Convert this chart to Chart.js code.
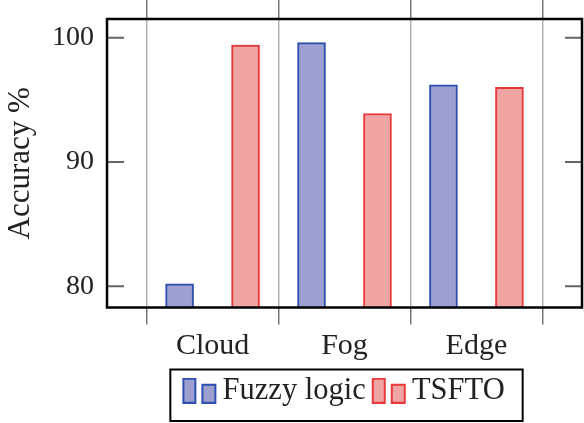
<!DOCTYPE html>
<html>
<head>
<meta charset="utf-8">
<script src="https://cdn.jsdelivr.net/npm/chart.js@4.4.1/dist/chart.umd.min.js"></script>
<style>
  html, body { margin: 0; padding: 0; background: #fff; }
  #wrap { width: 584px; height: 423px; }
</style>
</head>
<body>
<div id="wrap"><canvas id="accuracyChart"></canvas></div>
<script>
// Datos
const categories = ['Cloud', 'Fog', 'Edge'];
const fuzzyLogic = [80.2, 99.6, 96.2];
const tsfto = [99.4, 93.9, 96.0];
const yTicks = [80, 90, 100];
const seriesNames = ['Fuzzy logic', 'TSFTO'];

const FONT = 'Liberation Serif, Times New Roman, serif';
const blueFill = '#9c9fcf', blueLine = '#2f4fb0';
const redFill = '#f0a5a5', redLine = '#e8393a';

// separadores entre categorías (x = 0.5, 1.5, ...)
const xTickValues = [];
for (let i = 0; i <= categories.length; i++) {
    xTickValues.push(i + 0.5);
    if (i < categories.length) xTickValues.push(i + 1);
}
const isSeparator = v => Math.abs(v % 1 - 0.5) < 1e-6;

// icono de leyenda con dos barritas, como en pgfplots
function legendIcon(fill, line) {
    const c = document.createElement('canvas');
    c.width = 43; c.height = 26;
    const g = c.getContext('2d');
    g.fillStyle = fill; g.strokeStyle = line; g.lineWidth = 2;
    g.fillRect(9, 1, 12, 24); g.strokeRect(9, 1, 12, 24);
    g.fillRect(28, 7, 13, 18); g.strokeRect(28, 7, 13, 18);
    return c;
}

const frameAndTicks = {
    id: 'frameAndTicks',
    afterDatasetsDraw(chart) {
        const { ctx, chartArea: a } = chart;
        const y = chart.scales.y;
        ctx.save();
        ctx.strokeStyle = '#666';
        ctx.lineWidth = 2;
        yTicks.forEach(v => {
            const py = y.getPixelForValue(v);
            ctx.beginPath();
            ctx.moveTo(a.left, py); ctx.lineTo(a.left + 17, py);
            ctx.moveTo(a.right, py); ctx.lineTo(a.right - 17, py);
            ctx.stroke();
        });
        ctx.strokeStyle = '#000';
        ctx.lineWidth = 2.5;
        ctx.strokeRect(a.left, a.top, a.right - a.left, a.bottom - a.top);
        ctx.restore();
    },
    afterDraw(chart) {
        const lg = chart.legend;
        if (!lg || !lg.legendHitBoxes.length) return;
        const boxes = lg.legendHitBoxes;
        const first = boxes[0], last = boxes[boxes.length - 1];
        const { ctx } = chart;
        ctx.save();
        ctx.strokeStyle = '#000';
        ctx.lineWidth = 2;
        const left = first.left - 14, right = last.left + last.width + 18;
        ctx.strokeRect(left, lg.top + 2, right - left, lg.bottom - lg.top + 3);
        ctx.restore();
    }
};

function xAxis(position) {
    const bottom = position === 'bottom';
    return {
        type: 'linear',
        position: position,
        min: 0.2,
        max: 3.8,
        offset: false,
        afterBuildTicks: s => { s.ticks = xTickValues.map(v => ({ value: v })); },
        afterFit: s => { s.height = bottom ? 60 : 19; },
        border: { display: false },
        grid: {
            offset: false,
            drawOnChartArea: bottom,
            tickLength: bottom ? 17 : 19,
            lineWidth: 1.5,
            color: c => c.tick && isSeparator(c.tick.value) ? '#b5b5b5' : 'rgba(0,0,0,0)',
            tickColor: c => c.tick && isSeparator(c.tick.value) ? '#777' : 'rgba(0,0,0,0)'
        },
        ticks: {
            display: bottom,
            autoSkip: false,
            maxRotation: 0,
            padding: 4,
            color: '#222',
            font: { family: FONT, size: 30 },
            callback: v => isSeparator(v) ? '' : categories[Math.round(v) - 1]
        }
    };
}

function createChart() {
    const ctx = document.getElementById('accuracyChart').getContext('2d');
    new Chart(ctx, {
        type: 'bar',
        data: {
            datasets: [{
                label: seriesNames[0],
                data: fuzzyLogic.map((v, i) => ({ x: i + 1 - 0.25, y: v })),
                backgroundColor: blueFill,
                borderColor: blueLine,
                borderWidth: 2,
                borderSkipped: false,
                pointStyle: legendIcon(blueFill, blueLine)
            }, {
                label: seriesNames[1],
                data: tsfto.map((v, i) => ({ x: i + 1 + 0.25, y: v })),
                backgroundColor: redFill,
                borderColor: redLine,
                borderWidth: 2,
                borderSkipped: false,
                pointStyle: legendIcon(redFill, redLine)
            }]
        },
        options: {
            responsive: true,
            maintainAspectRatio: false,
            animation: false,
            grouped: false,
            barThickness: 28,
            layout: { padding: { top: 0, right: 2, bottom: 7, left: 0 } },
            scales: {
                x: xAxis('bottom'),
                x2: xAxis('top'),
                y: {
                    min: 78.3,
                    max: 101.5,
                    afterBuildTicks: s => { s.ticks = yTicks.map(v => ({ value: v })); },
                    afterFit: s => {
                        s.width = 107;
                        s.paddingTop = 0;
                        s.paddingBottom = 0;
                    },
                    border: { display: false },
                    grid: { display: false, drawTicks: false },
                    ticks: {
                        padding: 13,
                        color: '#222',
                        font: { family: FONT, size: 28 }
                    },
                    title: {
                        display: true,
                        text: 'Accuracy %',
                        color: '#222',
                        padding: { top: 2, bottom: 0 },
                        font: { family: FONT, size: 31 }
                    }
                }
            },
            plugins: {
                legend: {
                    position: 'bottom',
                    fullSize: false,
                    labels: {
                        usePointStyle: true,
                        pointStyleWidth: 23,
                        padding: 8,
                        color: '#222',
                        font: { family: FONT, size: 30.5 }
                    }
                },
                tooltip: { enabled: false }
            }
        },
        plugins: [frameAndTicks]
    });
}

document.addEventListener('DOMContentLoaded', createChart);
</script>
</body>
</html>
